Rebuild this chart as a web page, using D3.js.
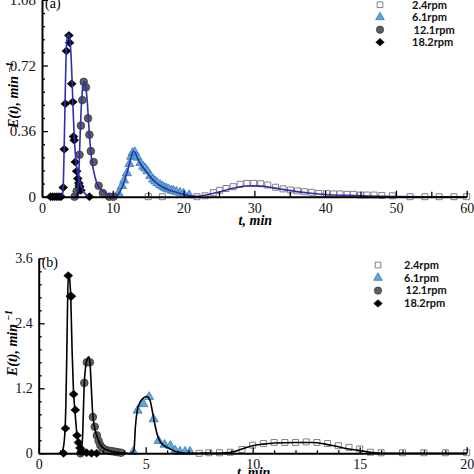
<!DOCTYPE html>
<html><head><meta charset="utf-8">
<script src="https://cdn.jsdelivr.net/npm/d3@7"></script>
<style>body{margin:0;background:#fff}svg{display:block}</style>
</head><body>
<svg id="c" width="474" height="474"></svg>
<script>
// ---------- data ----------
const seriesNames = ["2.4rpm", "6.1rpm", "12.1rpm", "18.2rpm"];
const panelLabels = ["(a)", "(b)"];
const xTicksA = [0, 10, 20, 30, 40, 50, 60];
const xMinorA = [5, 15, 25, 35, 45, 55];
const yTicksA = [0, 0.36, 0.72, 1.08];
const yTickLabelsA = ["0", "0.36", "0.72", "1.08"];
const yMinorA = [0.072, 0.144, 0.216, 0.288, 0.432, 0.504, 0.576, 0.648, 0.792, 0.864, 0.936, 1.008];
const xTicksB = [0, 5, 10, 15, 20];
const xMinorB = [1,2,3,4,6,7,8,9,11,12,13,14,16,17,18,19];
const yTicksB = [0, 1.2, 2.4, 3.6];
const yTickLabelsB = ["0", "1.2", "2.4", "3.6"];
const yMinorB = [0.24,0.48,0.72,0.96,1.44,1.68,1.92,2.16,2.64,2.88,3.12,3.36];

// panel (a) measured points
const a24 = [[15,0],[17,0],[21.9,0],[23.05,0.005],[24.2,0.022],[25.1,0.035],[26.0,0.045],[27.0,0.055],[28.0,0.068],[28.95,0.073],[29.9,0.073],[30.9,0.071],[31.9,0.064],[33.0,0.052],[34.05,0.043],[35.1,0.037],[36.1,0.032],[37.1,0.027],[38.1,0.024],[39.1,0.018],[40.2,0.018],[41.2,0.015],[42.1,0.015],[43.1,0.013],[44.0,0.013],[45.0,0.009],[45.9,0.009],[46.9,0.009],[48.0,0.007],[49.5,0.005],[52,0],[54.1,0],[56.1,0],[58.2,0],[60,0]];
const a61 = [[10.8,0.02],[11.3,0.06],[11.6,0.09],[12.0,0.13],[12.35,0.18],[12.6,0.22],[12.8,0.24],[13.1,0.245],[13.5,0.215],[13.9,0.185],[14.3,0.165],[14.6,0.155],[14.9,0.14],[15.3,0.115],[15.7,0.095],[16.0,0.085],[16.3,0.075],[16.7,0.065],[17.0,0.057],[17.3,0.05],[17.6,0.045],[17.9,0.04],[18.3,0.035],[18.6,0.032],[19.0,0.027],[19.5,0.022],[20.0,0.018],[20.8,0.009]];
const a121 = [[4.6,0],[4.9,0.03],[5.2,0.06],[5.3,0.23],[5.5,0.39],[5.7,0.53],[5.9,0.63],[6.2,0.6],[6.5,0.43],[6.7,0.34],[6.9,0.25],[7.3,0.19],[8.0,0.06],[8.6,0.02],[9.5,0],[10.1,0]];
const a182 = [[1.2,0],[1.5,0],[1.8,0],[2.1,0],[2.4,0],[2.7,0],[3.0,0.05],[3.15,0.26],[3.3,0.51],[3.45,0.8],[3.8,0.885],[3.9,0.845],[4.2,0.62],[4.35,0.52],[4.45,0.33],[4.55,0.31],[4.7,0.19],[4.9,0.14],[5.05,0.1],[5.2,0.075],[5.35,0.055],[5.5,0.035],[6.7,0]];
// panel (a) fitted curves
const a24fit = [[20,0],[22,0.002],[23.5,0.012],[25,0.026],[26.5,0.042],[28,0.054],[29.5,0.06],[31,0.058],[32.5,0.05],[34,0.04],[36,0.028],[38,0.019],[40,0.012],[43,0.007],[46,0.004],[50,0.001],[54,0],[60,0]];
const a61fit = [[10.2,0],[10.8,0.015],[11.4,0.06],[12.0,0.13],[12.5,0.2],[12.9,0.248],[13.2,0.24],[13.5,0.21],[14.0,0.175],[14.5,0.15],[15.0,0.125],[15.5,0.1],[16.0,0.082],[16.5,0.066],[17.0,0.053],[18.0,0.036],[19.0,0.024],[20.0,0.013],[21.0,0.005],[22,0]];
const a121fit = [[4.7,0],[5.0,0.02],[5.2,0.12],[5.4,0.35],[5.6,0.53],[5.8,0.61],[6.0,0.63],[6.2,0.6],[6.4,0.52],[6.6,0.4],[6.8,0.29],[7.0,0.21],[7.3,0.14],[7.7,0.08],[8.2,0.045],[9.0,0.02],[9.8,0.005],[10.3,0]];
const a182fit = [[1.0,0],[2.85,0],[3.0,0.06],[3.15,0.3],[3.3,0.6],[3.45,0.82],[3.6,0.88],[3.8,0.89],[3.95,0.86],[4.1,0.78],[4.25,0.64],[4.4,0.47],[4.55,0.33],[4.7,0.24],[4.9,0.165],[5.2,0.1],[5.6,0.05],[6.0,0.02],[6.6,0]];

// panel (b) measured points
const b24 = [[7.5,0],[7.95,0.01],[8.45,0.01],[8.95,0.02],[9.5,0.07],[10.0,0.15],[10.5,0.18],[11.0,0.2],[11.5,0.2],[12.0,0.2],[12.5,0.21],[13.0,0.2],[13.5,0.18],[14.0,0.14],[14.5,0.11],[15.0,0.08],[15.5,0.02],[16.0,0.01],[17.0,0.01],[18.0,0.01],[19.0,0.01],[20.0,0.01]];
const b61 = [[4.42,0.03],[4.62,0.79],[4.89,0.91],[5.16,1.04],[5.37,0.63],[5.6,0.23],[5.88,0.16],[6.15,0.14],[6.38,0.05],[6.6,0.03],[6.84,0.03],[7.07,0.03]];
const b121 = [[1.95,0],[2.05,0.03],[2.13,1.3],[2.25,1.68],[2.39,1.68],[2.53,0.67],[2.62,0.49],[2.72,0.33],[2.8,0.23],[2.88,0.15],[2.97,0.1],[3.1,0.07],[3.25,0.05],[3.4,0.04],[3.55,0.03],[3.7,0.02],[3.85,0.01]];
const b182 = [[1.16,0],[1.25,0.46],[1.38,3.28],[1.48,2.9],[1.53,2.9],[1.63,1.09],[1.71,0.8],[1.79,0.33],[1.86,0.2],[1.93,0.1],[2.0,0.03],[2.24,0.01],[2.47,0],[2.71,0]];
// panel (b) fitted curves
const b24fit = [[7.5,0],[8.5,0.005],[9.0,0.02],[9.5,0.08],[10.0,0.14],[10.5,0.17],[11.0,0.19],[12.0,0.2],[12.8,0.2],[13.4,0.17],[14.0,0.12],[14.5,0.08],[15.0,0.05],[15.5,0.02],[16.0,0],[20,0]];
const b61fit = [[4.3,0],[4.45,0.05],[4.52,0.5],[4.6,0.78],[4.72,0.93],[4.88,1.02],[5.05,1.05],[5.2,0.98],[5.3,0.8],[5.42,0.55],[5.55,0.33],[5.7,0.2],[5.9,0.13],[6.1,0.09],[6.35,0.04],[6.7,0.01],[7.0,0],[8.0,0]];
const b121fit = [[1.9,0],[2.0,0.05],[2.06,0.4],[2.12,1.2],[2.2,1.62],[2.28,1.75],[2.34,1.78],[2.4,1.65],[2.46,1.2],[2.52,0.75],[2.6,0.5],[2.7,0.34],[2.8,0.23],[2.95,0.12],[3.2,0.06],[3.5,0.03],[3.9,0.01],[4.2,0]];
const b182fit = [[0.95,0],[1.1,0.04],[1.2,0.25],[1.27,0.9],[1.32,2.0],[1.36,3.0],[1.4,3.32],[1.44,3.25],[1.5,2.85],[1.56,1.9],[1.62,1.2],[1.7,0.75],[1.78,0.38],[1.86,0.18],[1.95,0.07],[2.05,0.02],[2.2,0],[2.8,0]];

// ---------- drawing ----------
const svg = d3.select("#c");
const serif = "'Liberation Serif','Times New Roman',serif";

const diamondType = {
  draw(ctx, size) {
    const w = Math.sqrt(size) * 0.62, h = Math.sqrt(size) * 0.55;
    ctx.moveTo(0, -h); ctx.lineTo(w, 0); ctx.lineTo(0, h); ctx.lineTo(-w, 0); ctx.closePath();
  }
};
const markerStyles = [
  {type: d3.symbolSquare, size: 36, fill: "#ffffff", stroke: "#808080", sw: 1},
  {type: d3.symbolTriangle, size: 36, fill: "#5aa8dc", stroke: "#3b78ad", sw: 0.8},
  {type: d3.symbolCircle, size: 46, fill: "#5e5e5e", stroke: "#3a3a3a", sw: 0.8},
  {type: diamondType, size: 52, fill: "#000000", stroke: "#000000", sw: 0.6}
];

function panel(cfg) {
  const x = d3.scaleLinear().domain(cfg.xDomain).range(cfg.xRange);
  const y = d3.scaleLinear().domain(cfg.yDomain).range(cfg.yRange);
  const g = svg.append("g");

  // markers
  cfg.points.forEach((pts, i) => {
    const st = markerStyles[i];
    g.append("g").selectAll("path").data(pts).join("path")
      .attr("transform", d => `translate(${x(d[0])},${y(d[1])})`)
      .attr("d", d3.symbol(st.type, st.size))
      .attr("fill", st.fill).attr("stroke", st.stroke).attr("stroke-width", st.sw);
  });
  // fitted lines
  const line = d3.line().x(d => x(d[0])).y(d => y(d[1])).curve(d3.curveMonotoneX);
  cfg.fits.forEach(f => {
    g.append("path").datum(f).attr("d", line)
      .attr("fill", "none").attr("stroke", cfg.lineColor).attr("stroke-width", 1.6);
  });

  // axes
  const xAxis = g.append("g").attr("transform", `translate(0,${cfg.yRange[0]})`)
    .call(d3.axisBottom(x).tickValues(cfg.xTicks).tickSize(-6).tickSizeOuter(0).tickPadding(6).tickFormat(d3.format("d")));
  g.append("g").attr("transform", `translate(0,${cfg.yRange[0]})`)
    .call(d3.axisBottom(x).tickValues(cfg.xMinor).tickSize(-cfg.xMinorLen).tickSizeOuter(0).tickFormat(""))
    .call(a => a.select(".domain").remove());
  const yAxis = g.append("g").attr("transform", `translate(${cfg.xRange[0]},0)`)
    .call(d3.axisLeft(y).tickValues(cfg.yTicks).tickSize(-6).tickSizeOuter(0).tickPadding(6)
      .tickFormat((d, i) => cfg.yTickLabels[i]));
  g.append("g").attr("transform", `translate(${cfg.xRange[0]},0)`)
    .call(d3.axisLeft(y).tickValues(cfg.yMinor).tickSize(-3).tickSizeOuter(0).tickFormat(""))
    .call(a => a.select(".domain").remove());
  [xAxis, yAxis].forEach(a => {
    a.select(".domain").attr("stroke", "#000").attr("stroke-width", 2);
    a.selectAll("text").attr("font-family", serif).attr("fill", "#111");
  });
  xAxis.selectAll("text").attr("font-size", 14);
  yAxis.selectAll("text").attr("font-size", cfg.yTickFont);
  g.selectAll(".tick line").attr("stroke", "#000").attr("stroke-width", 1.3);

  // panel label
  g.append("text").attr("x", cfg.xRange[0] + 3).attr("y", cfg.labelY)
    .attr("font-family", serif).attr("font-size", 14).text(cfg.label);

  // axis titles
  const yt = g.append("text")
    .attr("transform", `translate(${cfg.yTitleX},${cfg.yTitleY}) rotate(-90)`)
    .attr("text-anchor", "middle").attr("font-family", serif).attr("font-size", 14)
    .attr("font-weight", "bold").attr("font-style", "italic");
  yt.append("tspan").text("E(t), min");
  yt.append("tspan").attr("dy", "-0.5em").attr("dx", "3").attr("font-size", 10).text("\u22121");
  g.append("text").attr("x", (cfg.xRange[0] + cfg.xRange[1]) / 2 + 1).attr("y", cfg.xTitleY)
    .attr("text-anchor", "middle").attr("font-family", serif).attr("font-size", 14)
    .attr("font-weight", "bold").attr("font-style", "italic").text("t, min");

  // legend
  const lg = g.append("g");
  seriesNames.forEach((name, i) => {
    const st = markerStyles[i];
    const yy = cfg.legendY + i * cfg.legendDy;
    lg.append("path").attr("transform", `translate(${cfg.legendX},${yy})`)
      .attr("d", d3.symbol(st.type, st.size * 0.9))
      .attr("fill", st.fill).attr("stroke", st.stroke).attr("stroke-width", st.sw);
    lg.append("text").attr("x", cfg.legendTextX + (i === 2 ? 1.5 : 0)).attr("y", yy).attr("dy", "0.35em")
      .attr("font-family", "Lato, 'Open Sans', sans-serif").attr("font-weight", "bold")
      .attr("font-size", 11).attr("fill", "#111").text(name);
  });
}

panel({
  xDomain: [0, 60], xRange: [42, 466.7], yDomain: [0, 1.08], yRange: [196.7, -0.1],
  xTicks: xTicksA, xMinor: xMinorA, xMinorLen: 5, yTicks: yTicksA, yTickLabels: yTickLabelsA, yMinor: yMinorA, yTickFont: 15,
  points: [a24, a61, a121, a182], fits: [a24fit, a61fit, a121fit, a182fit], lineColor: "#2f2fae",
  label: panelLabels[0], labelY: 8, yTitleX: 18, yTitleY: 95, xTitleY: 225,
  legendX: 380, legendTextX: 412, legendY: 4.7, legendDy: 12.5
});
panel({
  xDomain: [0, 20], xRange: [38.7, 466.7], yDomain: [0, 3.6], yRange: [453.3, 258.3],
  xTicks: xTicksB, xMinor: xMinorB, xMinorLen: 3, yTicks: yTicksB, yTickLabels: yTickLabelsB, yMinor: yMinorB, yTickFont: 14,
  points: [b24, b61, b121, b182], fits: [b24fit, b61fit, b121fit, b182fit], lineColor: "#000000",
  label: panelLabels[1], labelY: 267, yTitleX: 17, yTitleY: 343, xTitleY: 477,
  legendX: 378, legendTextX: 404, legendY: 265, legendDy: 12.8
});
</script>
</body></html>
